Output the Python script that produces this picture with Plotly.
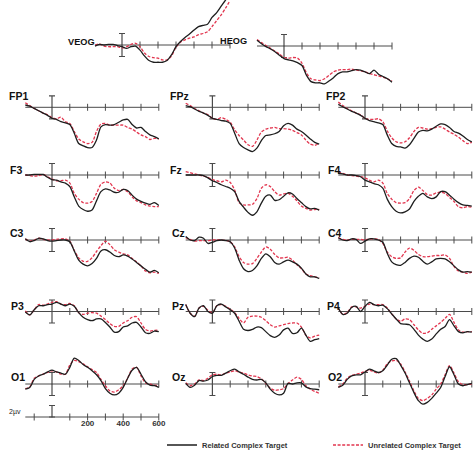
import plotly.graph_objects as go

# ---------------- data (µV, sampled every 25 ms from -150 to 600 ms) ----------------
t_ms = list(range(-150, 601, 25))
tick_ms = [100, 200, 300, 400, 500, 600]
scale_tick_ms = [-100, 100, 200, 300, 400, 500, 600]
scale_label_ms = [200, 400, 600]
bar_uv = 2

veog_rel = [-0.2, 0.1, 0, 0.1, 0.1, -0.1, -0.3, -0.6, -0.3, -0.2, -0.9, -1.9, -2.7, -3.0, -3.0, -3.0, -2.7, -1.7, -0.3, 0.6, 1.3, 1.9, 2.6, 3.2, 3.4, 3.6, 4.8, 5.6, 6.7, 7.8, 9.0]
veog_unrel = [0, 0.2, -0.2, -0.3, -0.3, -0.3, -0.5, -0.3, 0.1, 0.3, -0.3, -1.4, -2.0, -2.2, -2.3, -2.6, -2.6, -1.9, -0.4, 0.5, 0.9, 1.2, 1.4, 1.8, 2.0, 2.3, 3.2, 4.2, 5.2, 6.4, 7.7]
heog_rel = [1.0, 0.4, -0.1, -0.5, -1.0, -1.6, -2.2, -2.4, -2.6, -2.9, -3.4, -5.1, -6.2, -6.4, -6.4, -6.6, -6.1, -5.5, -4.8, -4.5, -4.5, -4.3, -4.1, -4.2, -4.5, -4.8, -4.2, -4.9, -5.3, -5.7, -6.3]
heog_unrel = [1.1, 0.6, 0.1, -0.4, -0.9, -1.4, -2.0, -2.1, -2.0, -2.1, -3.0, -4.7, -5.7, -5.9, -6.0, -5.7, -5.1, -4.5, -4.2, -4.1, -4.1, -4.0, -4.2, -4.3, -4.5, -4.8, -5.0, -5.2, -5.4, -5.7, -6.1]

fp1_rel = [0.4, 0.2, -0.2, -0.6, -1.0, -1.4, -1.9, -2.1, -2.5, -2.7, -3.0, -4.5, -6.3, -6.7, -7.0, -7.0, -5.7, -3.4, -3.0, -3.1, -3.0, -2.6, -2.2, -2.1, -3.0, -3.6, -3.5, -4.2, -4.8, -5.1, -5.5]
fp1_unrel = [0.8, 0.3, -0.2, -0.6, -1.0, -1.3, -1.8, -2.0, -1.7, -2.5, -2.8, -4.2, -5.5, -6.0, -6.3, -6.1, -4.2, -2.9, -2.8, -3.1, -3.1, -3.1, -3.1, -3.5, -3.8, -4.3, -4.8, -5.1, -5.6, -5.4, -5.5]
fpz_rel = [0.3, 0.1, -0.3, -0.7, -1.0, -1.4, -1.9, -2.1, -2.3, -2.4, -2.8, -4.5, -6.3, -7.0, -7.4, -7.7, -7.1, -5.8, -4.9, -4.8, -4.6, -4.2, -3.2, -2.8, -3.1, -3.8, -4.2, -4.8, -5.5, -6.1, -6.4]
fpz_unrel = [0.7, 0.3, -0.2, -0.6, -1.0, -1.3, -1.9, -2.1, -1.8, -2.1, -2.6, -3.9, -4.9, -5.7, -6.5, -6.8, -5.7, -4.3, -3.8, -3.6, -3.5, -3.7, -3.7, -3.8, -4.0, -4.4, -4.8, -5.7, -6.4, -6.6, -6.3]
fp2_rel = [0.5, 0.1, -0.3, -0.7, -1.0, -1.4, -1.9, -2.3, -2.5, -2.7, -3.0, -4.8, -6.3, -6.8, -6.9, -7.1, -6.5, -5.4, -4.3, -4.0, -4.1, -3.8, -3.3, -2.9, -3.0, -3.5, -4.2, -4.5, -5.0, -5.6, -6.0]
fp2_unrel = [0.9, 0.3, -0.2, -0.6, -1.0, -1.3, -1.9, -2.1, -2.1, -2.0, -2.5, -4.1, -5.3, -6.0, -6.2, -6.0, -5.3, -4.2, -3.5, -3.6, -3.8, -3.7, -3.5, -3.4, -3.8, -4.3, -4.7, -5.2, -5.8, -6.3, -6.1]

f3_rel = [0, 0, 0.1, 0.1, 0.1, -0.4, -0.8, -0.9, -1.2, -1.4, -2.0, -3.8, -5.4, -6.0, -6.3, -6.1, -4.5, -2.9, -2.4, -2.6, -3.0, -3.0, -2.5, -2.7, -3.5, -4.2, -4.6, -4.9, -5.1, -4.8, -5.3]
f3_unrel = [0, -0.1, -0.2, -0.1, 0.1, -0.3, -0.7, -1.0, -1.0, -0.9, -1.4, -3.2, -4.2, -4.8, -4.9, -4.6, -3.2, -1.6, -1.2, -1.4, -2.3, -2.7, -2.5, -2.9, -3.8, -4.5, -4.8, -5.2, -5.4, -5.5, -5.5]
fz_rel = [0, 0, 0, 0, -0.1, -0.5, -1.0, -1.3, -1.7, -2.0, -2.3, -2.9, -4.6, -5.6, -6.5, -7.0, -6.4, -4.9, -3.7, -3.5, -4.4, -4.3, -3.7, -3.1, -3.3, -4.1, -4.8, -5.5, -5.9, -5.8, -6.1]
fz_unrel = [0.6, 0.4, 0.2, 0, -0.2, -0.4, -0.8, -1.0, -1.2, -0.9, -1.3, -2.6, -4.8, -5.2, -5.2, -5.1, -4.1, -2.3, -1.7, -2.0, -2.9, -3.5, -3.3, -3.2, -3.7, -4.5, -5.4, -5.8, -6.1, -6.0, -6.0]
f4_rel = [0.3, 0.2, 0, 0, -0.1, -0.3, -0.9, -1.2, -1.5, -1.7, -2.3, -4.2, -5.5, -6.3, -6.6, -6.4, -5.9, -4.6, -3.7, -3.2, -3.8, -4.1, -3.8, -2.9, -2.9, -3.5, -4.2, -4.8, -5.2, -5.3, -5.4]
f4_unrel = [0.6, 0.3, 0, -0.1, -0.2, -0.3, -0.5, -0.9, -1.2, -0.9, -1.4, -3.2, -4.2, -4.8, -4.9, -4.8, -4.1, -2.7, -2.1, -2.7, -3.4, -3.5, -3.1, -3.0, -3.2, -3.9, -4.6, -5.5, -5.7, -5.5, -5.6]

c3_rel = [0.2, -0.3, -0.1, 0.3, 0.2, -0.1, -0.2, -0.1, 0, 0, -0.3, -1.9, -3.5, -4.2, -4.5, -4.1, -3.2, -1.9, -1.7, -2.1, -2.7, -2.9, -2.6, -2.8, -3.3, -3.9, -4.5, -5.1, -5.6, -5.3, -5.7]
c3_unrel = [0.2, -0.2, 0, 0.3, 0.1, 0, 0, 0.1, 0.2, 0.2, -0.2, -1.8, -3.1, -3.7, -3.7, -3.1, -2.0, -1.0, -0.2, -0.8, -1.7, -2.1, -2.4, -2.6, -3.2, -3.8, -4.5, -5.4, -5.7, -5.6, -5.8]
cz_rel = [0.6, 0, -0.1, 0.5, 0.3, -0.6, -0.4, -0.1, 0, -0.1, -0.3, -1.4, -3.5, -5.0, -5.5, -5.3, -4.5, -3.2, -2.4, -2.9, -3.9, -4.2, -3.8, -3.5, -3.8, -4.2, -4.9, -5.9, -6.4, -6.4, -6.7]
cz_unrel = [0.4, 0.1, -0.2, -0.1, -0.1, -0.1, 0, 0, 0, -0.1, -0.3, -1.2, -2.9, -3.9, -4.2, -4.1, -3.2, -2.1, -1.2, -1.6, -2.5, -3.1, -3.1, -3.0, -3.5, -4.3, -5.0, -5.9, -6.2, -6.4, -6.6]
c4_rel = [0.4, 0, -0.1, 0.2, 0.1, -0.6, -0.2, 0.2, 0.2, 0, -0.4, -2.3, -3.8, -4.3, -4.4, -3.9, -3.2, -2.8, -3.0, -3.7, -4.2, -3.8, -3.3, -3.2, -3.3, -3.8, -4.5, -5.2, -5.6, -5.5, -5.6]
c4_unrel = [0.4, 0.1, 0, 0.1, 0.1, 0.1, 0, 0.2, 0.2, 0.1, -0.6, -2.1, -2.9, -3.2, -3.1, -2.1, -1.4, -1.8, -2.5, -2.9, -2.9, -2.8, -2.7, -2.7, -2.6, -3.2, -4.6, -5.4, -5.6, -5.8, -5.6]

p3_rel = [-0.1, -0.6, 0.3, 1.0, 1.0, 1.2, 1.3, 1.6, 1.3, 1.0, 1.3, 0.9, -0.2, -1.0, -1.4, -1.6, -1.3, -1.3, -1.9, -2.7, -3.6, -3.5, -2.7, -2.5, -2.0, -1.9, -2.7, -3.7, -3.8, -3.4, -3.5]
p3_unrel = [0.1, -0.6, 0.3, 1.2, 1.1, 1.3, 1.6, 1.7, 1.3, 1.2, 1.4, 1.0, -0.2, -0.5, -0.3, -0.2, -0.3, -0.8, -1.4, -2.1, -2.6, -2.6, -2.0, -1.6, -1.0, -0.9, -2.0, -3.1, -3.4, -3.3, -3.2]
pz_rel = [1.2, -0.3, -0.9, 0.6, 1.0, 0, -0.3, 1.0, 1.3, 0.8, 0.3, -0.3, -1.7, -3.1, -3.3, -3.1, -2.7, -2.8, -3.5, -4.2, -4.5, -4.1, -3.2, -2.9, -3.8, -3.7, -2.9, -4.1, -5.2, -4.9, -4.7]
pz_unrel = [1.2, -0.3, -0.8, 0.6, 0.9, 0.2, -0.2, 1.0, 1.2, 0.9, 0.4, -0.2, -1.2, -2.0, -1.0, -0.8, -0.8, -1.0, -1.6, -2.3, -2.7, -2.5, -2.3, -2.1, -2.0, -2.0, -2.7, -4.1, -4.6, -4.3, -4.1]
p4_rel = [0.6, -0.5, -0.3, 0.7, 0.9, 0, 0.9, 1.6, 1.2, 1.0, 1.1, 0.5, -0.4, -1.3, -2.1, -2.2, -2.3, -3.1, -4.1, -4.8, -5.2, -4.8, -3.9, -3.1, -2.6, -1.4, -2.5, -3.5, -3.7, -3.5, -3.6]
p4_unrel = [0.6, -0.5, -0.2, 0.8, 0.8, 0.6, 0.9, 1.3, 1.2, 1.2, 1.2, 0.6, -0.4, -1.3, -1.7, -1.3, -1.4, -2.3, -3.2, -3.8, -3.7, -3.1, -2.5, -1.9, -1.2, -0.5, -1.9, -3.2, -3.6, -3.5, -3.5]

o1_rel = [-0.9, -0.6, 0.8, 1.4, 1.7, 2.1, 2.4, 2.1, 1.9, 1.7, 2.9, 4.5, 4.1, 3.4, 2.9, 2.3, 1.6, 0.6, -0.8, -1.6, -1.9, -1.6, -0.6, 1.0, 2.4, 2.9, 1.7, 0.4, -0.2, -0.3, -0.6]
o1_unrel = [-0.8, -0.5, 1.0, 1.4, 1.7, 2.0, 2.3, 2.1, 1.7, 1.7, 3.3, 4.1, 3.9, 3.5, 3.0, 2.5, 2.0, 0.8, -0.3, -1.2, -1.4, -1.0, -0.3, 1.0, 2.6, 2.9, 1.4, 0.2, 0, -0.2, -0.3]
oz_rel = [0.1, -0.6, -0.2, 0.6, 0.5, 0.7, 1.3, 1.5, 1.5, 1.9, 2.3, 2.6, 2.1, 1.7, 1.2, 0.8, 0.7, 0.8, 0.2, -0.9, -1.6, -1.9, -1.6, 0.1, 0, 0.2, 0.2, -0.5, -0.8, -0.9, -1.0]
oz_unrel = [0.2, -0.3, 0, 0.7, 0.6, 1.0, 1.6, 1.7, 1.6, 1.9, 2.1, 2.3, 2.1, 1.9, 1.6, 1.4, 1.3, 0.9, 0.1, -0.7, -1.1, -1.0, -0.8, 0.1, 0.7, 1.2, 0.8, -0.3, -0.9, -1.3, -1.6]
o2_rel = [-0.6, -0.2, 0.8, 1.4, 1.6, 1.6, 2.1, 2.6, 2.3, 2.0, 2.3, 3.3, 4.3, 4.4, 3.3, 1.9, 0.2, -1.5, -2.9, -3.5, -3.2, -2.5, -1.6, -0.6, 1.3, 3.0, 1.6, 0, -0.3, -0.1, 0.1]
o2_unrel = [-0.5, 0, 1.0, 1.5, 1.7, 1.9, 2.2, 2.4, 2.1, 1.9, 2.4, 3.5, 4.0, 4.1, 3.5, 2.1, 0.5, -1.2, -2.5, -2.9, -2.5, -1.9, -0.9, 0, 1.6, 3.2, 1.9, 0.4, -0.1, -0.1, 0]

series_names = ["Related Complex Target", "Unrelated Complex Target"]

# ---------------- layout (pixels) ----------------
W, H = 474, 450
PX_PER_UV = 5.75
T0, T1 = -150, 600
FONT = "Liberation Sans, Arial, sans-serif"
BLACK = "#1e1e1e"
RED = "#e2364f"
AXC = "#4a4a4a"

COLS = [25.3, 185.7, 338.3]
ROWS = [107.3, 175.0, 240.0, 311.5, 384.0]
LBLX = [[7, 168, 324], [8, 168, 326], [8, 170, 326], [9, 170, 325], [9, 170, 326]]
LBLDY = [11, 5, 7, 6, 7]

grid = [["FP1", "FPz", "FP2"], ["F3", "Fz", "F4"], ["C3", "Cz", "C4"],
        ["P3", "Pz", "P4"], ["O1", "Oz", "O2"]]
values = {
    "VEOG": (veog_rel, veog_unrel), "HEOG": (heog_rel, heog_unrel),
    "FP1": (fp1_rel, fp1_unrel), "FPz": (fpz_rel, fpz_unrel), "FP2": (fp2_rel, fp2_unrel),
    "F3": (f3_rel, f3_unrel), "Fz": (fz_rel, fz_unrel), "F4": (f4_rel, f4_unrel),
    "C3": (c3_rel, c3_unrel), "Cz": (cz_rel, cz_unrel), "C4": (c4_rel, c4_unrel),
    "P3": (p3_rel, p3_unrel), "Pz": (pz_rel, pz_unrel), "P4": (p4_rel, p4_unrel),
    "O1": (o1_rel, o1_unrel), "Oz": (oz_rel, oz_unrel), "O2": (o2_rel, o2_unrel),
}

# panel specs: name, x0, axis_y, width, label x, label y, label size
panels = [("VEOG", 95.0, 45.0, 135.0, 66, 42, 9.2),
          ("HEOG", 257.0, 46.0, 135.0, 218, 41, 9.2)]
for r, row in enumerate(grid):
    for c, nm in enumerate(row):
        panels.append((nm, COLS[c], ROWS[r], 133.5, LBLX[r][c], ROWS[r] - LBLDY[r], 10.5))

fig = go.Figure()
layout_axes = {}
annotations = []


def add_panel(idx, x0, ay, wpx, top_px, bot_px):
    k = wpx / (T1 - T0)
    pad = 3
    lo_px = max(0.0, x0 - pad)
    hi_px = min(float(W), x0 + wpx + pad)
    xs = "" if idx == 1 else str(idx)
    layout_axes["xaxis" + xs] = dict(
        domain=[lo_px / W, hi_px / W],
        range=[T0 + (lo_px - x0) / k, T0 + (hi_px - x0) / k], visible=False, fixedrange=True)
    layout_axes["yaxis" + xs] = dict(
        domain=[1 - bot_px / H, 1 - top_px / H],
        range=[(ay - bot_px) / PX_PER_UV, (ay - top_px) / PX_PER_UV],
        visible=False, fixedrange=True)
    return "x" + xs, "y" + xs


def axis_traces(xa, ya, ticks, bar_minus):
    fig.add_trace(go.Scatter(x=[T0, T1], y=[0, 0], mode="lines", xaxis=xa, yaxis=ya,
                             line=dict(color=AXC, width=1), showlegend=False, hoverinfo="skip"))
    fig.add_trace(go.Scatter(x=ticks, y=[0] * len(ticks), mode="markers", xaxis=xa, yaxis=ya,
                             marker=dict(symbol="line-ns", size=5, line=dict(color=AXC, width=1)),
                             showlegend=False, hoverinfo="skip"))
    fig.add_trace(go.Scatter(x=[0], y=[0], mode="markers", xaxis=xa, yaxis=ya,
                             marker=dict(size=1, color=AXC),
                             error_y=dict(type="data", symmetric=False, array=[bar_uv],
                                          arrayminus=[bar_minus], width=3, thickness=1.2, color=AXC),
                             showlegend=False, hoverinfo="skip"))


idx = 0
for i, (nm, x0, ay, wpx, lx, ly, ls) in enumerate(panels):
    idx += 1
    top = max(0.0, ay - 52)
    bot = min(float(H), ay + 52)
    xa, ya = add_panel(idx, x0, ay, wpx, top, bot)
    axis_traces(xa, ya, tick_ms, bar_uv)
    rel, unrel = values[nm]
    fig.add_trace(go.Scatter(x=t_ms, y=unrel, mode="lines", xaxis=xa, yaxis=ya,
                             name=series_names[1], legendrank=2, showlegend=(i == 0),
                             line=dict(color=RED, width=1.3, dash="3px,1.6px", shape="spline", smoothing=0.8)))
    fig.add_trace(go.Scatter(x=t_ms, y=rel, mode="lines", xaxis=xa, yaxis=ya,
                             name=series_names[0], legendrank=1, showlegend=(i == 0),
                             line=dict(color=BLACK, width=1.3, shape="spline", smoothing=0.8)))
    annotations.append(dict(text=nm, x=lx / W, y=1 - ly / H, xref="paper", yref="paper",
                            xanchor="left", yanchor="middle", showarrow=False,
                            font=dict(family=FONT, size=ls, color="#111", weight="bold")))

# scale-bar panel
idx += 1
sx0, say = 25.3, 417.0
xa, ya = add_panel(idx, sx0, say, 133.5, say - 30, H)
axis_traces(xa, ya, scale_tick_ms, 0)
xs = str(idx)
layout_axes["xaxis" + xs].update(
    visible=True, showline=False, showgrid=False, zeroline=False, ticks="",
    tickvals=scale_label_ms, anchor="free", position=1 - say / H,
    tickfont=dict(family=FONT, size=8, color="#333", weight="bold"))
annotations.append(dict(text="2µv", x=7 / W, y=1 - 412 / H, xref="paper", yref="paper",
                        xanchor="left", yanchor="middle", showarrow=False,
                        font=dict(family=FONT, size=7, color="#222")))

fig.update_layout(
    width=W, height=H, margin=dict(l=0, r=0, t=0, b=0, autoexpand=False),
    paper_bgcolor="white", plot_bgcolor="rgba(0,0,0,0)",
    template="none", hovermode=False,
    annotations=annotations,
    legend=dict(orientation="h", x=162 / W, xanchor="left", y=1 - 445 / H, yanchor="middle",
                font=dict(family=FONT, size=7.5, color="#333", weight="bold"),
                bgcolor="rgba(0,0,0,0)", entrywidth=121, entrywidthmode="pixels",
                itemwidth=30, traceorder="normal"),
    **layout_axes,
)
fig.write_html("out.html")
